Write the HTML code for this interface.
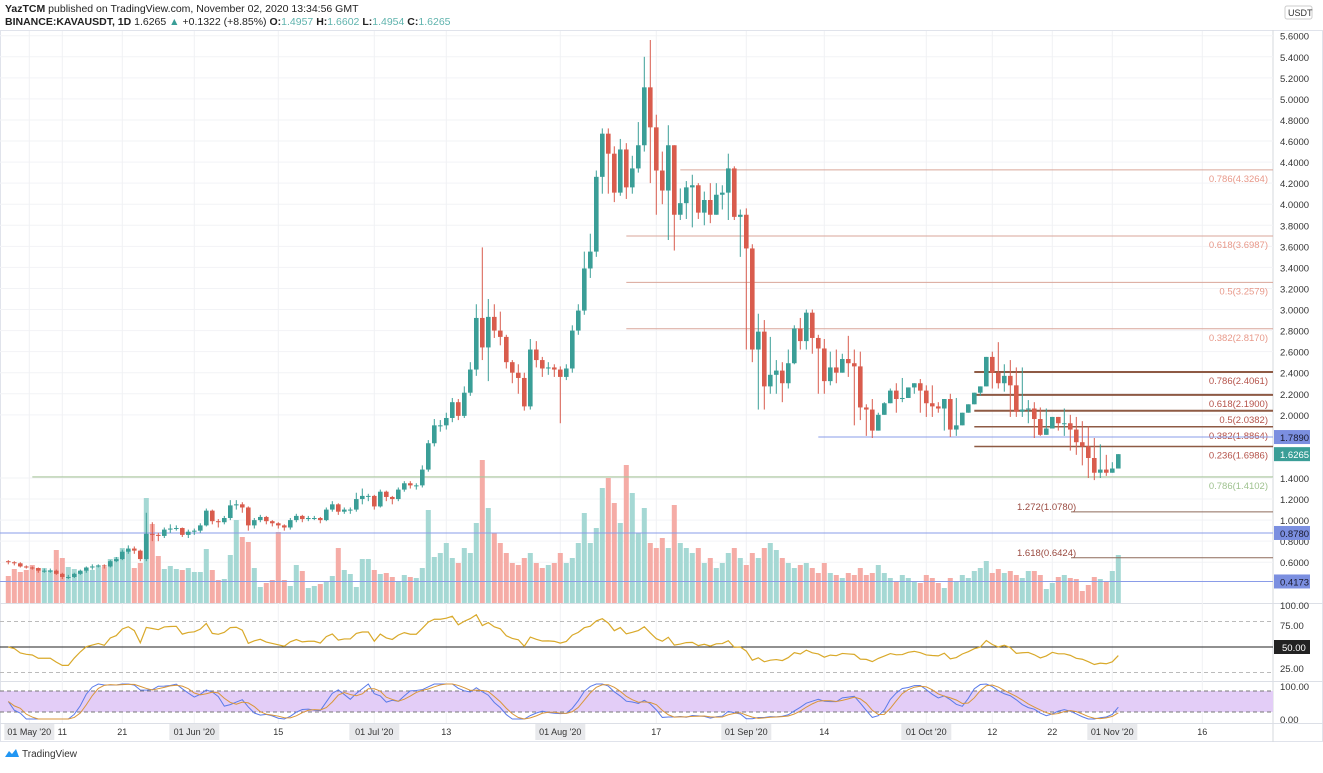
<!DOCTYPE html>
<html><head><meta charset="utf-8"><style>
body{margin:0;background:#fff;width:1323px;height:768px;overflow:hidden;font-family:"Liberation Sans",sans-serif}
svg text{font-family:"Liberation Sans",sans-serif}
</style></head><body>
<svg id="c" width="1323" height="768" xmlns="http://www.w3.org/2000/svg">
<text x="5" y="12" font-size="10.5" fill="#222"><tspan font-weight="bold">YazTCM</tspan> published on TradingView.com, November 02, 2020 13:34:56 GMT</text>
<text x="5" y="25" font-size="10.5" fill="#222"><tspan font-weight="bold">BINANCE:KAVAUSDT, 1D</tspan> 1.6265 <tspan fill="#3a9e97">▲</tspan> +0.1322 (+8.85%) <tspan font-weight="bold">O:</tspan><tspan fill="#5fb3ad">1.4957</tspan> <tspan font-weight="bold">H:</tspan><tspan fill="#5fb3ad">1.6602</tspan> <tspan font-weight="bold">L:</tspan><tspan fill="#5fb3ad">1.4954</tspan> <tspan font-weight="bold">C:</tspan><tspan fill="#5fb3ad">1.6265</tspan></text>
<g id="grid"></g><g id="vol"></g><g id="fib"></g><g id="candles"></g><g id="ind"></g><g id="axis"></g>
<text x="22" y="757" font-size="10" fill="#333">TradingView</text>
<path d="M5 757 l4 -6 l3 3 l4 -5 l3 8 z" fill="#2196f3"/>
</svg>
<script>
const closes=[0.60,0.59,0.56,0.55,0.545,0.52,0.52,0.52,0.49,0.46,0.46,0.49,0.52,0.55,0.56,0.57,0.56,0.61,0.63,0.70,0.73,0.71,0.63,0.87,0.86,0.85,0.91,0.92,0.925,0.86,0.89,0.90,0.95,1.09,0.99,0.98,1.02,1.14,1.15,1.12,0.95,1.0,1.03,0.99,0.97,0.95,0.93,1.0,1.04,1.01,1.02,1.02,1.0,1.1,1.15,1.08,1.1,1.1,1.2,1.23,1.23,1.13,1.27,1.22,1.2,1.29,1.35,1.33,1.33,1.48,1.73,1.9,1.9,1.97,2.12,1.99,2.21,2.43,2.92,2.64,2.93,2.8,2.74,2.5,2.4,2.35,2.08,2.62,2.52,2.44,2.45,2.43,2.36,2.44,2.8,2.99,3.39,3.55,4.26,4.67,4.48,4.11,4.52,4.16,4.34,4.56,5.11,4.73,4.32,4.13,4.56,3.9,4.01,4.16,4.18,3.92,4.04,3.9,4.09,4.11,4.34,3.88,3.9,3.58,2.62,2.79,2.27,2.38,2.42,2.3,2.49,2.82,2.7,2.97,2.73,2.63,2.32,2.45,2.4,2.53,2.49,2.46,2.07,2.05,1.85,2.0,2.11,2.23,2.15,2.16,2.26,2.3,2.23,2.11,2.08,2.06,2.15,1.86,1.9,2.02,2.1,2.21,2.27,2.55,2.4,2.3,2.37,2.28,2.03,2.05,2.06,1.96,1.81,1.87,1.98,1.92,1.92,1.86,1.74,1.70,1.59,1.45,1.48,1.45,1.49,1.6265];
const highs=[0.62,0.61,0.6,0.57,0.56,0.55,0.54,0.54,0.53,0.5,0.48,0.5,0.53,0.56,0.58,0.58,0.58,0.62,0.65,0.72,0.76,0.75,0.72,1.07,0.98,0.88,0.93,0.96,0.95,0.93,0.91,0.92,0.97,1.11,1.1,1.01,1.04,1.19,1.19,1.17,1.13,1.02,1.05,1.04,1.0,0.98,0.96,1.02,1.06,1.05,1.04,1.04,1.03,1.12,1.18,1.16,1.12,1.12,1.26,1.3,1.25,1.24,1.29,1.28,1.23,1.31,1.37,1.37,1.35,1.52,1.76,1.96,1.95,2.02,2.16,2.15,2.27,2.5,3.05,3.59,3.1,3.05,2.98,2.76,2.52,2.48,2.4,2.72,2.7,2.55,2.5,2.48,2.46,2.48,2.85,3.05,3.55,3.72,4.32,4.72,4.72,4.55,4.62,4.58,4.46,4.78,5.4,5.56,4.85,4.5,4.75,4.4,4.15,4.22,4.28,4.2,4.12,4.2,4.2,4.18,4.48,4.36,3.95,3.96,3.62,2.96,2.9,2.74,2.52,2.5,2.62,2.85,2.92,3.0,3.0,2.76,2.72,2.6,2.62,2.58,2.75,2.62,2.6,2.1,2.15,2.02,2.12,2.25,2.3,2.35,2.18,2.3,2.34,2.28,2.28,2.12,2.1,2.2,2.16,1.95,2.05,2.15,2.25,2.35,2.6,2.69,2.48,2.52,2.45,2.45,2.14,2.12,2.07,2.06,1.98,1.97,2.06,2.0,1.98,1.94,1.89,1.78,1.72,1.62,1.55,1.55,1.52,1.52,1.66];
const lows=[0.58,0.57,0.55,0.54,0.53,0.5,0.5,0.5,0.48,0.44,0.44,0.45,0.48,0.5,0.53,0.55,0.54,0.55,0.6,0.62,0.68,0.68,0.61,0.61,0.8,0.8,0.83,0.88,0.9,0.84,0.83,0.86,0.88,0.94,0.96,0.93,0.96,1.0,1.1,1.07,0.9,0.92,0.98,0.96,0.94,0.92,0.9,0.91,0.98,0.98,0.99,1.0,0.97,0.99,1.08,1.05,1.06,1.06,1.08,1.15,1.18,1.1,1.12,1.18,1.15,1.18,1.27,1.3,1.29,1.31,1.46,1.7,1.84,1.86,1.93,1.95,1.97,2.18,2.37,2.52,2.32,2.73,2.66,2.44,2.3,2.2,2.04,2.05,2.45,2.36,2.38,2.36,1.92,2.33,2.4,2.76,2.95,3.3,3.5,4.1,4.1,4.02,4.08,4.05,4.1,4.3,4.5,4.2,3.9,4.0,3.66,3.56,3.85,3.86,3.78,3.86,3.8,3.82,4.0,3.95,3.85,3.85,3.5,2.62,2.5,2.05,2.05,2.2,2.2,2.12,2.25,2.48,2.62,2.62,2.58,2.2,2.2,2.28,2.3,2.4,2.36,1.9,1.95,1.8,1.78,1.9,2.02,2.12,2.02,2.12,2.22,2.2,2.02,1.98,1.98,2.02,1.85,1.79,1.8,1.95,2.1,2.15,2.18,2.34,2.25,2.25,2.22,1.98,1.98,1.98,1.92,1.78,1.8,1.84,1.88,1.85,1.8,1.66,1.62,1.52,1.4,1.38,1.4,1.42,1.47];
const volumes=[27,34,31,33,38,35,35,33,53,45,36,34,31,33,33,37,36,44,46,55,53,35,40,105,79,47,34,37,34,33,35,31,31,54,33,23,24,48,83,66,61,35,16,20,23,71,23,17,38,32,15,17,19,21,27,55,33,29,16,44,44,33,29,30,26,21,28,26,25,35,93,46,50,60,45,40,55,50,80,143,95,70,60,50,40,38,45,50,40,35,38,40,50,40,45,60,90,60,75,115,125,100,80,138,110,70,95,60,55,65,55,98,60,55,50,55,40,45,35,40,50,55,45,38,50,45,55,60,53,45,40,35,38,40,35,30,40,30,28,25,30,28,35,28,30,38,30,25,22,28,25,22,20,28,25,20,15,25,22,28,25,32,35,42,30,34,30,32,28,25,32,32,28,14,20,26,28,25,24,12,18,26,24,22,32,48];
const priceTicks=[5.6,5.4,5.2,5.0,4.8,4.6,4.4,4.2,4.0,3.8,3.6,3.4,3.2,3.0,2.8,2.6,2.4,2.2,2.0,1.4,1.2,1.0,0.8,0.6];
const timeLabels=["01 May '20","11","21","01 Jun '20","15","01 Jul '20","13","01 Aug '20","17","01 Sep '20","14","01 Oct '20","12","22","01 Nov '20","16"];
const timeIdx=[3.5,9,19,31,45,61,73,92,108,123,136,153,164,174,184,199];
const fibLevels=[["0.786(4.3264)",4.3264,112,"#d9a69a","#e8998a",1],["0.618(3.6987)",3.6987,103,"#d9a69a","#e8998a",1],["0.5(3.2579)",3.2579,103,"#d9a69a","#e8998a",1],["0.382(2.8170)",2.817,103,"#d9a69a","#e8998a",1],["0.786(2.4061)",2.4061,161,"#8e5a44","#b5534a",2],["0.618(2.1900)",2.19,161,"#8e5a44","#b5534a",2],["0.5(2.0382)",2.0382,161,"#8e5a44","#b5534a",2],["0.382(1.8864)",1.8864,161,"#8e5a44","#b5534a",1.5],["0.236(1.6986)",1.6986,161,"#8e5a44","#b5534a",1.5],["0.786(1.4102)",1.4102,4,"#a9c69c","#9fc28f",1.2]];
const extLevels=[["1.272(1.0780)",1.078],["1.618(0.6424)",0.6424]];
const hLines=[[1.789,135],[0.878,-1],[0.4173,-1]];

const NS="http://www.w3.org/2000/svg";
const X=i=>8.3+6*i, Y=p=>478-(p-1.4)*105.3;
const RIGHT=1273;
function mk(t,a,parent){const e=document.createElementNS(NS,t);for(const k in a)e.setAttribute(k,a[k]);document.getElementById(parent).appendChild(e);return e;}
let e=mk('rect',{x:0.5,y:30.5,width:1322,height:711,fill:'none',stroke:'#e0e3eb'},'grid');

e=mk('line',{x1:RIGHT,y1:30,x2:RIGHT,y2:742,stroke:'#d6d8dd'},'grid');

[603.5,681.5,723.5].forEach(y=>{const l=mk('line',{x1:0,y1:y,x2:1323,y2:y,stroke:'#dcdfe6'},'grid');
});
priceTicks.forEach(p=>{const y=Y(p);if(y>32){const l=mk('line',{x1:0,y1:y,x2:RIGHT,y2:y,stroke:'#f2f3f6'},'grid');
}
const t=mk('text',{x:1280,y:y+4,'font-size':9.5,fill:'#333'},'axis');t.textContent=p.toFixed(4);
});
e=mk('rect',{x:1285,y:6,width:27,height:13,rx:2,fill:'#fff',stroke:'#ccc'},'axis');

e=mk('text',{x:1288,y:16,'font-size':9,fill:'#333'},'axis');e.textContent='USDT';

timeLabels.forEach((s,k)=>{const x=X(timeIdx[k]);
const l=mk('line',{x1:x,y1:31,x2:x,y2:723,stroke:'#f0f1f4'},'grid');

if(s.length>2){const r=mk('rect',{x:x-25,y:724,width:50,height:16,fill:'#e8e9ec'},'axis');
}
const t=mk('text',{x:x,y:735,'font-size':9,fill:'#333','text-anchor':'middle'},'axis');t.textContent=s;
});
const VB=603;
volumes.forEach((v,i)=>{const o=i?closes[i-1]:0.61;const up=closes[i]>=o;
const r=mk('rect',{x:X(i)-2.5,y:VB-v,width:5,height:v,fill:up?'#a5d8d4':'#f5aca6'},'vol');
});
fibLevels.forEach(f=>{const y=Y(f[1]);
const l=mk('line',{x1:X(f[2]),y1:y,x2:RIGHT,y2:y,stroke:f[3],'stroke-width':f[5]},'fib');

const t=mk('text',{x:1268,y:y+12,'font-size':9.5,fill:f[4],'text-anchor':'end'},'fib');t.textContent=f[0];
});
extLevels.forEach(f=>{const y=Y(f[1]);
const l=mk('line',{x1:1071,y1:y,x2:RIGHT,y2:y,stroke:'#8e6a5a','stroke-width':1},'fib');

const t=mk('text',{x:1017,y:y-2,'font-size':9.5,fill:'#9a4a40'},'fib');t.textContent=f[0];
});
hLines.forEach(h=>{const y=Y(h[0]);const x0=h[1]<0?0:X(h[1]);
const l=mk('line',{x1:x0,y1:y,x2:RIGHT,y2:y,stroke:'#8a9ce8','stroke-width':1},'fib');

const r=mk('rect',{x:RIGHT+1,y:y-7,width:36,height:14,fill:'#7b8fe0'},'axis');

const t=mk('text',{x:1280,y:y+4,'font-size':9.5,fill:'#1a1a2e'},'axis');t.textContent=h[0].toFixed(4);
});
closes.forEach((c,i)=>{const o=i?closes[i-1]:0.61;const up=c>=o;const col=up?'#3a9e97':'#d95c4d';
const hi=highs[i]!==undefined?Math.max(highs[i],o,c):Math.max(o,c);
const lo=lows[i]!==undefined?Math.min(lows[i],o,c):Math.min(o,c);
const w=mk('line',{x1:X(i),y1:Y(hi),x2:X(i),y2:Y(lo),stroke:col,'stroke-width':1},'candles');

const top=Y(Math.max(o,c)),bot=Y(Math.min(o,c));
const b=mk('rect',{x:X(i)-2.3,y:top,width:4.6,height:Math.max(1,bot-top),fill:col},'candles');
});
const last=closes[closes.length-1];
e=mk('rect',{x:RIGHT+1,y:Y(last)-7,width:36,height:14,fill:'#3a9e97'},'axis');

e=mk('text',{x:1280,y:Y(last)+4,'font-size':9.5,fill:'#fff'},'axis');e.textContent=last.toFixed(4);

const rsi=[];let ag=0,al=0;
for(let i=0;i<closes.length;i++){const d=i?closes[i]-closes[i-1]:0;const g=Math.max(d,0),l=Math.max(-d,0);
if(i==0){ag=0.01;al=0.01;}else{ag=(ag*13+g)/14;al=(al*13+l)/14;}rsi.push(100-100/(1+ag/al));}
const RY=v=>647-(v-50)*0.85;
[[80,'dash'],[20,'dash'],[50,'solid']].forEach(a=>{const l=mk('line',{x1:0,y1:RY(a[0]),x2:RIGHT,y2:RY(a[0]),stroke:a[1]=='solid'?'#222':'#bbb','stroke-dasharray':a[1]=='solid'?'':'4 3'},'ind');
});
e=mk('polyline',{points:rsi.map((v,i)=>X(i)+','+RY(v)).join(' '),fill:'none',stroke:'#d9a92a','stroke-width':1.2},'ind');

[[100,605],[75,625],[50,647],[25,668]].forEach(a=>{const t=mk('text',{x:1280,y:a[1]+4,'font-size':9.5,fill:'#333'},'axis');t.textContent=a[0].toFixed(2);
});
e=mk('rect',{x:RIGHT+1,y:640,width:36,height:14,fill:'#222'},'axis');

e=mk('text',{x:1282,y:651,'font-size':9.5,fill:'#fff'},'axis');e.textContent='50.00';

const st=rsi.map((v,i)=>{const w=rsi.slice(Math.max(0,i-13),i+1);const mn=Math.min(...w),mx=Math.max(...w);return mx>mn?(v-mn)/(mx-mn)*100:50;});
const sma=(a,n)=>a.map((v,i)=>{const w=a.slice(Math.max(0,i-n+1),i+1);return w.reduce((s,x)=>s+x,0)/w.length;});
const K=sma(st,3),D=sma(K,3);
const SY=v=>719-v*0.35;
e=mk('rect',{x:0,y:SY(80),width:RIGHT,height:SY(20)-SY(80),fill:'#e3cdf7'},'ind');

[80,20].forEach(v=>{const l=mk('line',{x1:0,y1:SY(v),x2:RIGHT,y2:SY(v),stroke:'#777','stroke-dasharray':'4 3'},'ind');
});
e=mk('polyline',{points:K.map((v,i)=>X(i)+','+SY(v)).join(' '),fill:'none',stroke:'#5b7bea','stroke-width':1},'ind');

e=mk('polyline',{points:D.map((v,i)=>X(i)+','+SY(v)).join(' '),fill:'none',stroke:'#d9963a','stroke-width':1},'ind');

[[100,686],[0,719]].forEach(a=>{const t=mk('text',{x:1280,y:a[1]+4,'font-size':9.5,fill:'#333'},'axis');t.textContent=a[0].toFixed(2);
});
</script>
</body></html>
